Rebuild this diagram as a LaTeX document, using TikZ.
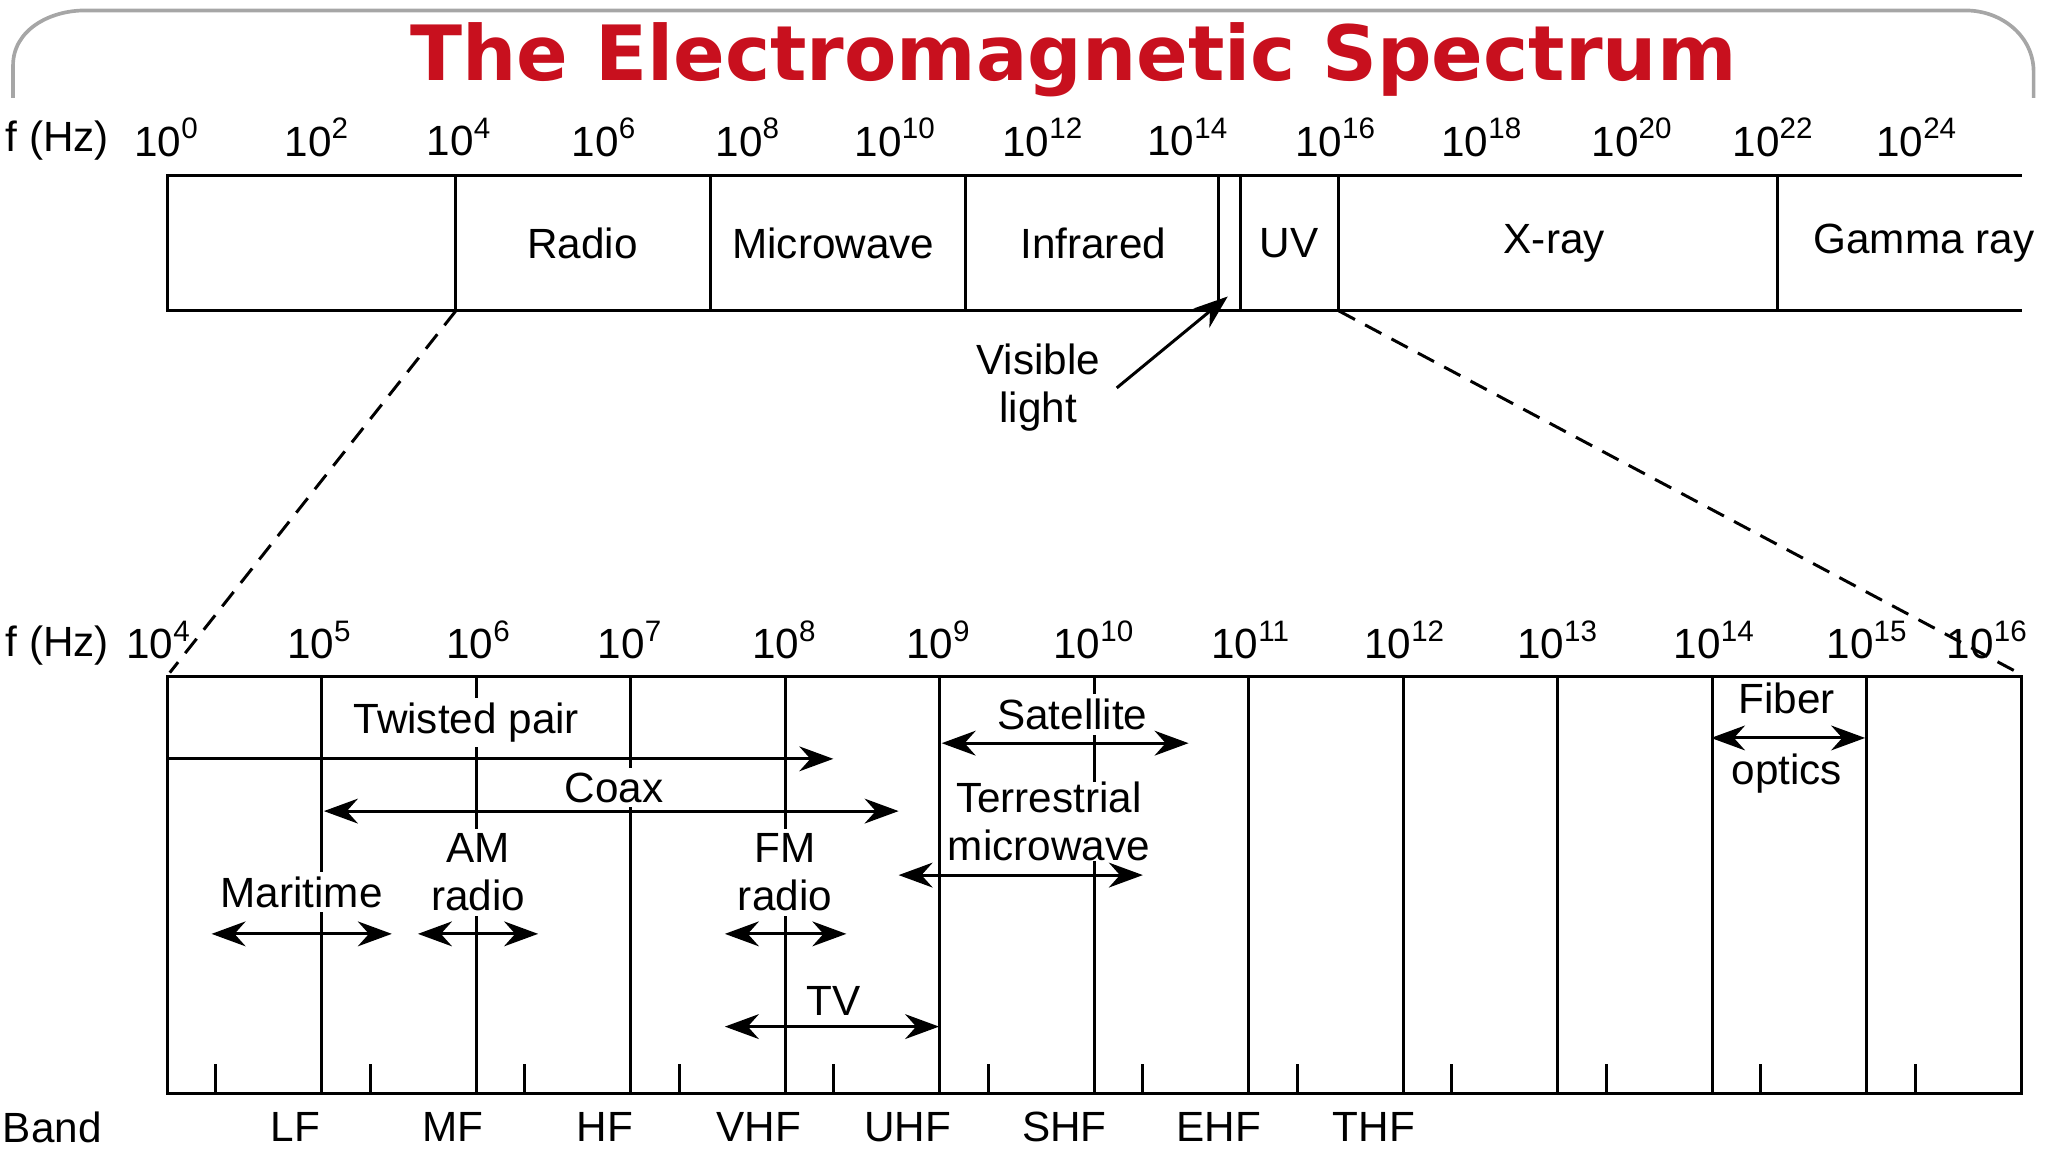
\documentclass[tikz,border=0pt]{standalone}
\usepackage{fontspec}
\setmainfont{Liberation Sans}
\newfontfamily\titlefont{DejaVu Sans}
\usetikzlibrary{arrows.meta}
\definecolor{titlered}{HTML}{C8101E}
\begin{document}
\begin{tikzpicture}[x=0.01cm,y=-0.01cm,
  lbl/.style={font=\fontsize{9.2}{10.5}\selectfont,inner sep=1pt,align=center},
  wlbl/.style={lbl,fill=white},
  ln/.style={line width=0.65pt},
  arr/.style={ln,{Stealth[length=2.6mm,width=1.9mm]}-{Stealth[length=2.6mm,width=1.9mm]}},
  rarr/.style={ln,-{Stealth[length=2.6mm,width=1.9mm]}},
  dashline/.style={ln,dash pattern=on 4pt off 2.5pt}]
\useasboundingbox (0,0) rectangle (1568,882);
% frame
\draw[gray!70,line width=0.8pt] (10,75) -- (10,50) to[out=90,in=180] (65,8) -- (1505,8) to[out=0,in=90] (1557,55) -- (1557,75);
\node[font=\titlefont\bfseries\fontsize{16.6}{19}\selectfont,text=titlered] (title) at (822,46) {The Electromagnetic Spectrum};
% top scale
\node[lbl] (fhz1) at (44,108) {f (Hz)};
\foreach \e/\x in {0/128,2/243,4/352,6/463,8/573,10/686,12/799,14/910,16/1023,18/1135,20/1250,22/1358,24/1468}
  \node[lbl] at (\x,105) {10\textsuperscript{\e}};
\draw[ln] (1548,134) -- (128,134) -- (128,238) -- (1548,238);
\foreach \x in {349,544,739,933,950,1025,1361} \draw[ln] (\x,134) -- (\x,238);
\coordinate (tl) at (349,238); \coordinate (tr) at (1025,238);
\node[lbl] at (446,186) {Radio};
\node[lbl] at (638,186) {Microwave};
\node[lbl] at (837,186) {Infrared};
\node[lbl] at (987,186) {UV};
\node[lbl] at (1190,186) {X-ray};
\node[lbl] at (1473,186) {Gamma ray};
\node[lbl] (vis) at (795,297) {Visible\\light};
\coordinate (vtip) at (940,227);
\draw[rarr] (855,297) -- (vtip);
% bottom box
\coordinate (bl) at (130,515); \coordinate (br) at (1545,515);
\draw[dashline] (tl) -- (bl);
\draw[dashline] (tr) -- (br);
\node[lbl] (fhz2) at (44,494) {f (Hz)};
\foreach \e/\x in {4/122,5/245,6/367,7/483,8/601,9/719,10/838,11/958,12/1076,13/1193,14/1313,15/1430,16/1522}
  \node[lbl] at (\x,490) {10\textsuperscript{\e}};
\draw[ln] (128,518) rectangle (1548,837);
\foreach \k in {1,...,11} \draw[ln] ({128+118.3*\k},518) -- ({128+118.3*\k},837);
\foreach \k in {0,...,11} \draw[ln] ({165+118.3*\k},815) -- ({165+118.3*\k},837);
\node[lbl] at (40,863) {Band};
\foreach \b/\x in {LF/226,MF/347,HF/463,VHF/581,UHF/695,SHF/815,EHF/933,THF/1052}
  \node[lbl] at (\x,863) {\b};
% arrows
\draw[rarr] (128,581) -- (638,581);
\node[wlbl] at (357,553) {Twisted pair};
\draw[arr] (248,621) -- (688,621);
\node[wlbl] at (470,603) {Coax};
\node[wlbl] at (231,683) {Maritime};
\draw[arr] (162,715) -- (300,715);
\node[wlbl] at (366,668) {AM\\radio};
\draw[arr] (320,715) -- (412,715);
\node[wlbl] at (601,668) {FM\\radio};
\draw[arr] (555,715) -- (648,715);
\node[wlbl] at (638,766) {TV};
\draw[arr] (555,786) -- (719,786);
\node[wlbl] at (821,547) {Satellite};
\draw[arr] (721,569) -- (910,569);
\node[wlbl,inner sep=0pt] at (803,629) {Terrestrial\\microwave};
\draw[arr] (688,670) -- (875,670);
\node[wlbl] at (1368,535) {Fiber};
\node[wlbl] at (1368,592) {optics};
\draw[arr] (1310,565) -- (1428,565);
\end{tikzpicture}
\end{document}
